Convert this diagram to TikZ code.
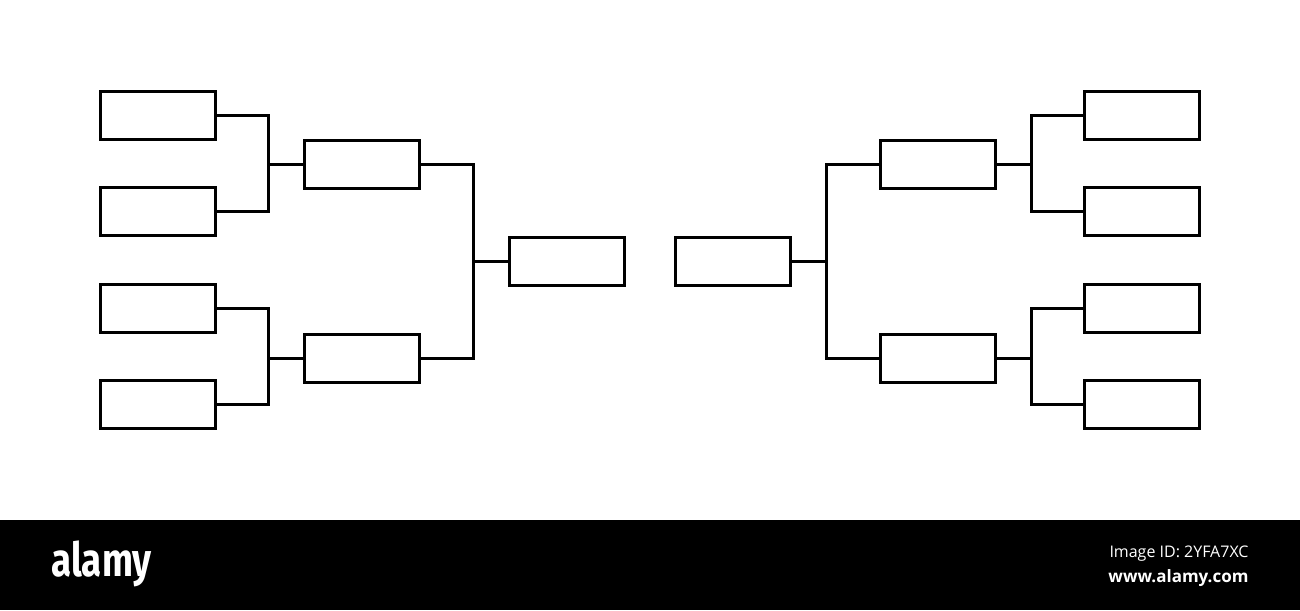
\documentclass[tikz,border=0pt]{standalone}
\usepackage{fontspec}
\newfontfamily\logofont[FakeStretch=0.78]{Fira Sans}
\newfontfamily\idfont{Open Sans}
\begin{document}
\begin{tikzpicture}[x=1pt, y=-1pt, line width=3pt,
		slot/.style={draw, rectangle, minimum width=115pt, minimum height=48pt, inner sep=0pt}]

		\useasboundingbox (0,0) rectangle (1300,610);

		% first round, left
		\node[slot] (L1a) at (157.5,115) {};
		\node[slot] (L1b) at (157.5,211) {};
		\node[slot] (L1c) at (157.5,308) {};
		\node[slot] (L1d) at (157.5,404) {};
		% second round, left
		\node[slot] (L2a) at (362,164) {};
		\node[slot] (L2b) at (362,358) {};
		% final, left
		\node[slot] (LF) at (567,261) {};

		% final, right
		\node[slot] (RF) at (732.5,261) {};
		% second round, right
		\node[slot] (R2a) at (937.5,164) {};
		\node[slot] (R2b) at (937.5,358) {};
		% first round, right
		\node[slot] (R1a) at (1141.5,115) {};
		\node[slot] (R1b) at (1141.5,211) {};
		\node[slot] (R1c) at (1141.5,308) {};
		\node[slot] (R1d) at (1141.5,404) {};

		\coordinate (JL1) at (268,164);
		\coordinate (JL2) at (268,358);
		\coordinate (JL3) at (473,261);
		\coordinate (JR3) at (826,261);
		\coordinate (JR1) at (1031,164);
		\coordinate (JR2) at (1031,358);

		\draw (L1a.east) -| (JL1) |- (L1b.east);
		\draw (JL1) -- (L2a.west);
		\draw (L1c.east) -| (JL2) |- (L1d.east);
		\draw (JL2) -- (L2b.west);
		\draw (L2a.east) -| (JL3) |- (L2b.east);
		\draw (JL3) -- (LF.west);

		\draw (R1a.west) -| (JR1) |- (R1b.west);
		\draw (JR1) -- (R2a.east);
		\draw (R1c.west) -| (JR2) |- (R1d.west);
		\draw (JR2) -- (R2b.east);
		\draw (R2a.west) -| (JR3) |- (R2b.west);
		\draw (JR3) -- (RF.east);

		% stock bar
		\fill[black] (0,520) rectangle (1300,610);
		\node[white, anchor=base west, inner sep=0pt] (logo) at (50,576)
			{\logofont\bfseries\fontsize{47}{47}\selectfont alamy};
		\node[white, anchor=base east, inner sep=0pt] (imgid) at (1250,557)
			{\idfont\fontsize{16}{16}\selectfont Image ID: 2YFA7XC};
		\node[white, anchor=base east, inner sep=0pt] (site) at (1250,582)
			{\idfont\bfseries\fontsize{17}{17}\selectfont www.alamy.com};

	\end{tikzpicture}
\end{document}
